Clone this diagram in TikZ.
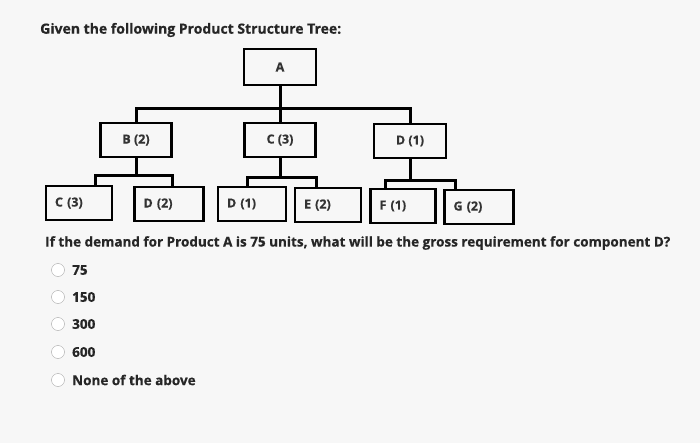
\documentclass[tikz,border=0pt]{standalone}
\usepackage{fontspec}
\setmainfont{Open Sans}[FakeBold=0.5]
\begin{document}
\begin{tikzpicture}[x=1pt,y=-1pt,
 part/.style={draw,line width=2.5pt,minimum height=34pt,font=\bfseries\fontsize{12.5}{14}\selectfont,inner sep=0pt,text=black!80},
 low/.style={part,text width=#1,align=left,inner xsep=9pt},
 bar/.style={line width=3pt},
 txt/.style={anchor=west,font=\bfseries\fontsize{13.5}{16}\selectfont,inner sep=0pt,text=black!85},
 opt/.style={draw=gray!70,fill=white,circle,minimum size=13pt,inner sep=0pt}]
\fill[gray!6] (0,0) rectangle (700,443);
\useasboundingbox (0,0) rectangle (700,443);
\node[txt,font=\bfseries\fontsize{14}{16}\selectfont] (title) at (40,30) {Given the following Product Structure Tree:};
\node[part,minimum width=72pt,minimum height=36pt] (A) at (280,67) {A};
\node[part,minimum width=71pt] (B) at (136,140) {B (2)};
\node[part,minimum width=71pt] (C) at (280,140) {C (3)};
\node[part,minimum width=72pt] (D) at (410,141) {D (1)};
\node[low=48pt] (b1) at (79,203) {C (3)};
\node[low=51pt] (b2) at (169,204) {D (2)};
\node[low=50pt] (c1) at (252,204) {D (1)};
\node[low=48pt] (c2) at (328,205) {E (2)};
\node[low=47pt] (d1) at (403,206) {F (1)};
\node[low=51pt] (d2) at (479,207) {G (2)};
\coordinate (ja) at (280,109);
\draw[bar] (A.south) -- (ja);
\draw[bar] (B.north) |- (ja) -| (D.north);
\draw[bar] (ja) -- (C.north);
\coordinate (jb) at (136,176);
\coordinate (b1t) at (95,186);
\coordinate (b2t) at (172,187);
\draw[bar] (B.south) -- (jb);
\draw[bar] (b1t) |- (jb) -| (b2t);
\coordinate (jc) at (280,178);
\coordinate (c1t) at (247,187);
\coordinate (c2t) at (316,188);
\draw[bar] (C.south) -- (jc);
\draw[bar] (c1t) |- (jc) -| (c2t);
\coordinate (jd) at (410,181);
\coordinate (d1t) at (385,189);
\coordinate (d2t) at (455,190);
\draw[bar] (D.south) -- (jd);
\draw[bar] (d1t) |- (jd) -| (d2t);
\node[txt] (q) at (45,243) {If the demand for Product A is 75 units, what will be the gross requirement for component D?};
\foreach \y/\t/\n in {270/75/o1,297/150/o2,324/300/o3,352/600/o4,380/None of the above/o5}{
  \node[opt] (c\n) at (58,\y) {};
  \node[txt] (\n) at (72,\y) {\t};
}
\end{tikzpicture}
\end{document}
